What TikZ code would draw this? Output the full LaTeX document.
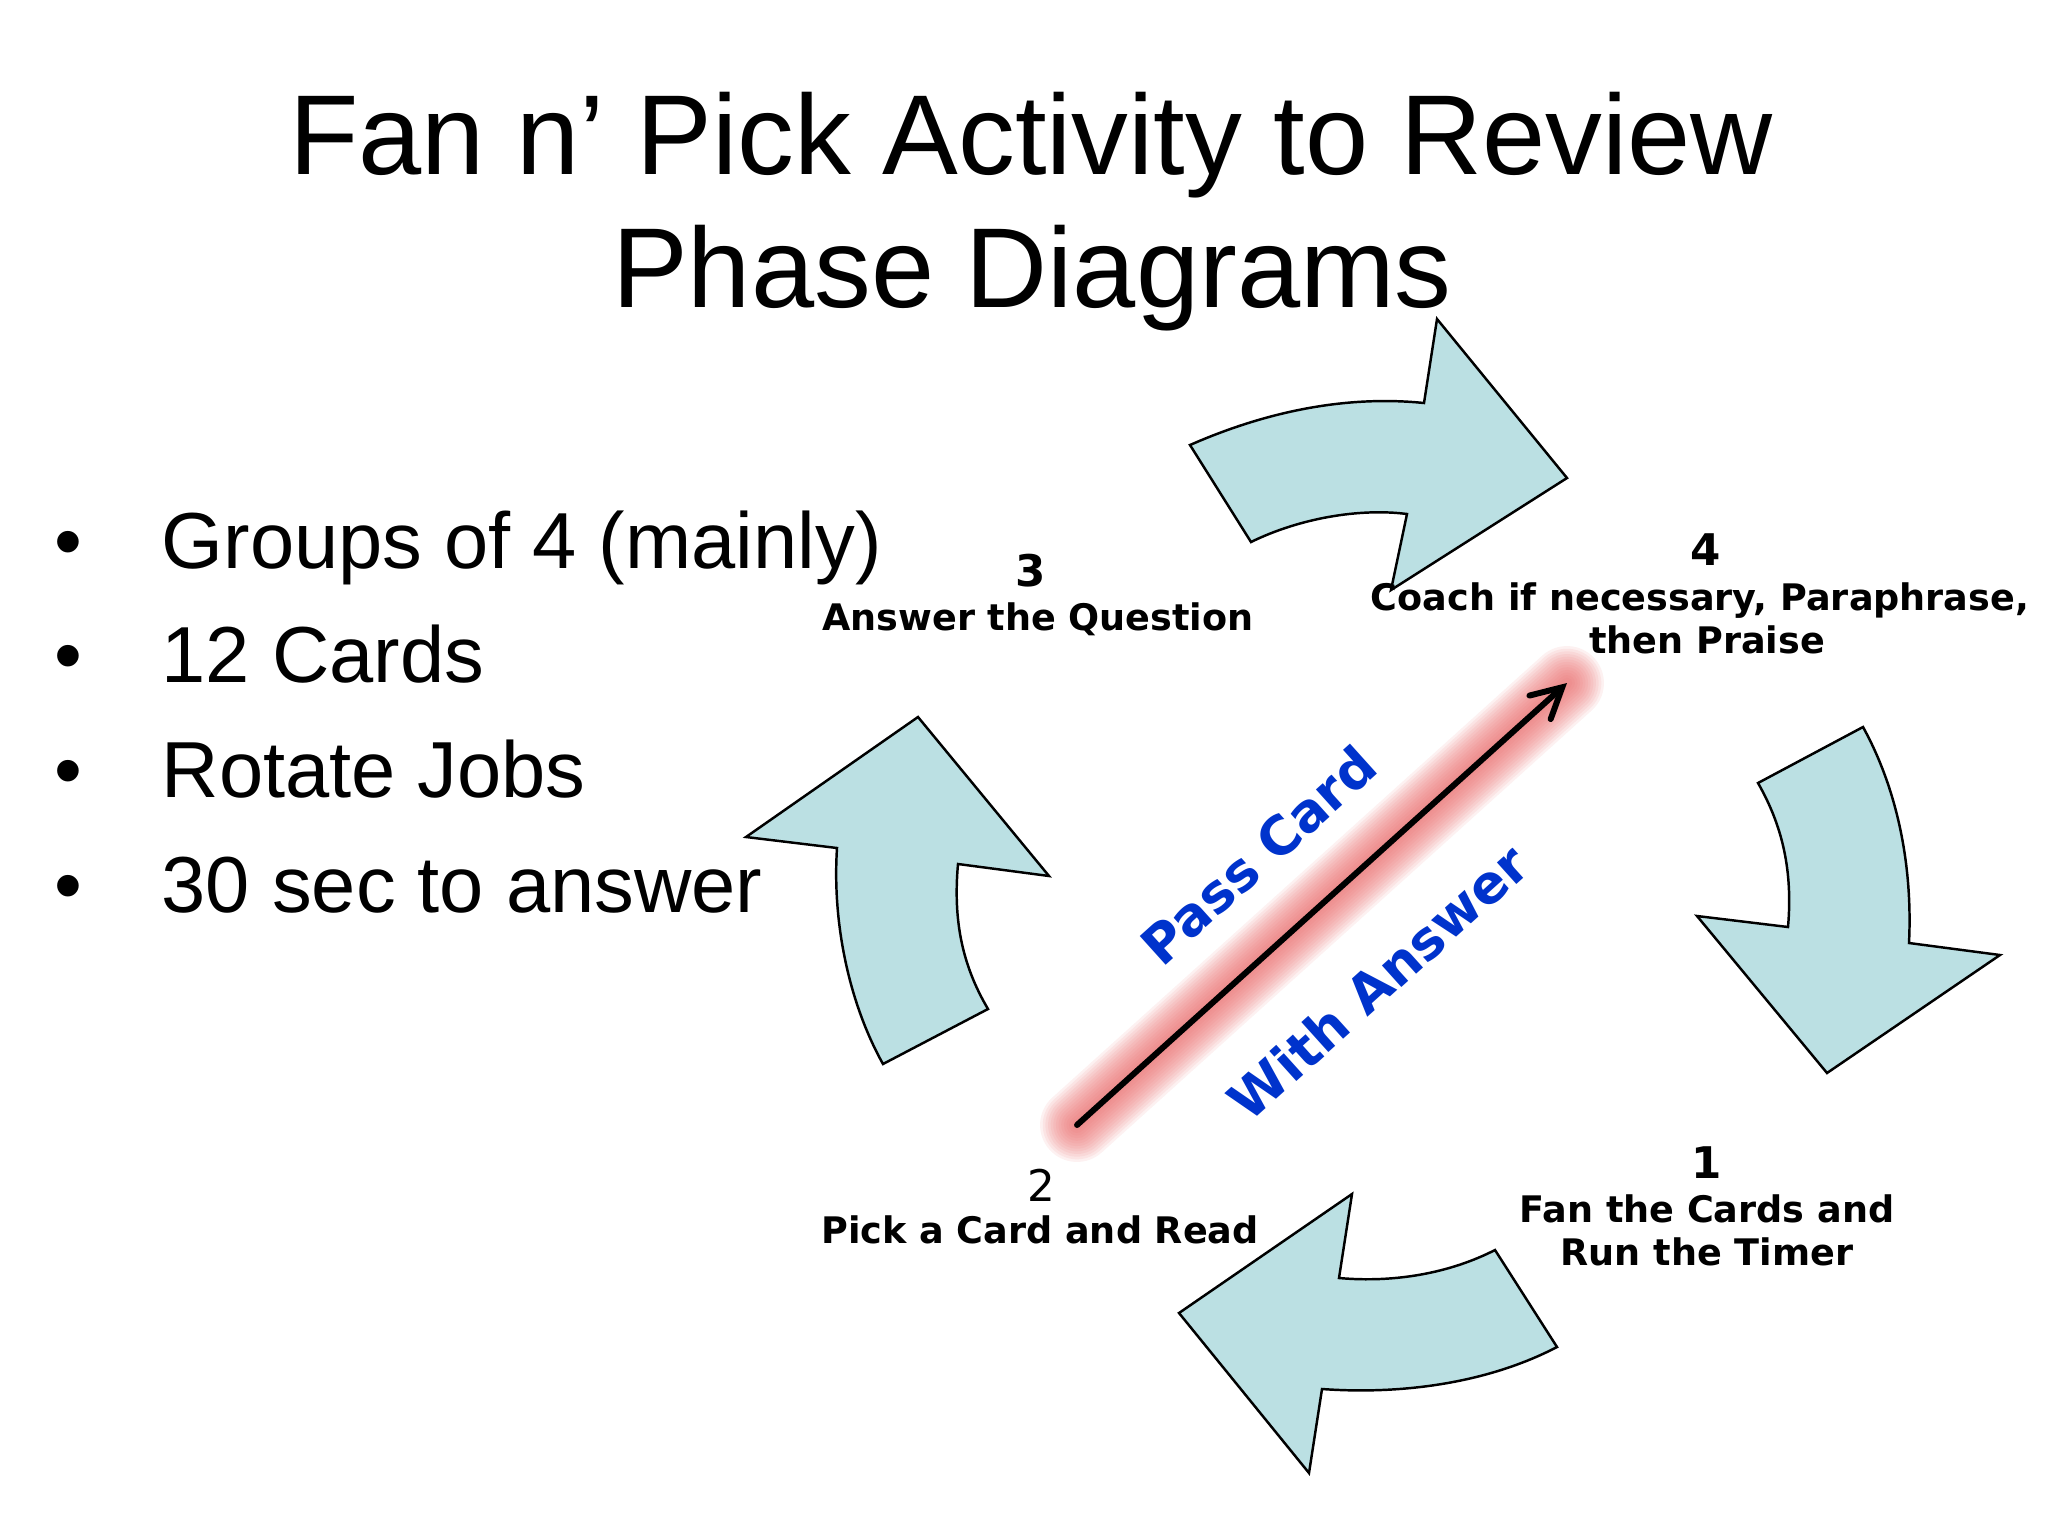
\documentclass[tikz,border=0pt]{standalone}
\usepackage{fontspec}
\setmainfont{Liberation Sans}
\newfontfamily\vfont{DejaVu Sans}
\usetikzlibrary{arrows.meta}
\definecolor{blockfill}{RGB}{187,224,227}
\definecolor{passblue}{RGB}{0,51,204}
\definecolor{glowred}{RGB}{236,104,104}
\tikzset{
  blockarrow/.style={fill=blockfill, draw=black, line width=0.7pt, line join=miter},
  titletext/.style={inner sep=0pt, anchor=base, font=\fontsize{32.3}{38}\selectfont},
  bullettext/.style={inner sep=0pt, anchor=base west, font=\fontsize{22.6}{27}\selectfont},
  bulletdot/.style={inner sep=0pt, anchor=base, font=\fontsize{22.6}{27}\selectfont},
  steplabel/.style={inner sep=0pt, anchor=base, font=\vfont\bfseries\fontsize{10.4}{12.5}\selectfont},
  stepnum/.style={inner sep=0pt, anchor=base, font=\vfont\bfseries\fontsize{12.4}{14}\selectfont},
  stepnumreg/.style={inner sep=0pt, anchor=base, font=\vfont\fontsize{12.4}{14}\selectfont},
  passtext/.style={inner sep=0pt, rotate=42, text=passblue, font=\vfont\bfseries\fontsize{15.1}{18}\selectfont},
  glowline/.style={draw=glowred, line cap=round, opacity=0.09},
  passarrow/.style={draw=black, line width=1.7pt, line cap=round,
    -{Straight Barb[length=8.5pt, width=9pt, line cap=round]}}
}
\begin{document}
\begin{tikzpicture}[x=0.01cm, y=-0.01cm]
\useasboundingbox (0,0) rectangle (2048,1536);
\fill[white] (0,0) rectangle (2048,1536);

% title
\node[titletext] (title1) at (1031,174) {Fan n’ Pick Activity to Review};
\node[titletext] (title2) at (1032,307) {Phase Diagrams};

% bullets
\node[bulletdot] (b1) at (68,568) {•};
\node[bullettext] (t1) at (161,568) {Groups of 4 (mainly)};
\node[bulletdot] (b2) at (68,682) {•};
\node[bullettext] (t2) at (161,682) {12 Cards};
\node[bulletdot] (b3) at (68,797) {•};
\node[bullettext] (t3) at (161,797) {Rotate Jobs};
\node[bulletdot] (b4) at (68,912) {•};
\node[bullettext] (t4) at (161,912) {30 sec to answer};

% block arrows
\draw[blockarrow] (1190,445) .. controls (1265,412) and (1345,395) .. (1424,403)
  -- (1437,319) -- (1567,478) -- (1391,590) -- (1407,514)
  .. controls (1360,508) and (1300,518) .. (1251,542) -- cycle;
\draw[blockarrow] (1863,727) .. controls (1895,785) and (1913,860) .. (1909,943)
  -- (2000,955) -- (1827,1073) -- (1697,916) -- (1788,927)
  .. controls (1793,870) and (1782,825) .. (1758,783) -- cycle;
\draw[blockarrow] (1495,1250) -- (1557,1347)
  .. controls (1490,1382) and (1405,1395) .. (1322,1389)
  -- (1309,1473) -- (1179,1313) -- (1352,1194) -- (1339,1278)
  .. controls (1395,1283) and (1450,1273) .. (1495,1250) -- cycle;
\draw[blockarrow] (918,717) -- (1049,876) -- (958,864)
  .. controls (953,920) and (962,965) .. (988,1009)
  -- (883,1064) .. controls (850,1005) and (832,925) .. (837,848)
  -- (746,837) -- cycle;

% pass arrow with glow
\coordinate (ps) at (1077,1125);
\coordinate (pe) at (1567,683);
\foreach \w in {21,19.5,18,16.5,15,13.5,12,10.5,9,7.5,6,4.5,3} {
  \draw[glowline, line width=\w pt] (ps) -- (pe);
}
\draw[passarrow] (ps) -- (pe);
\node[passtext] (pass) at (1258,855) {Pass Card};
\node[passtext] (with) at (1378,982) {With Answer};

% step labels
\node[stepnum] (n3) at (1031,586) {3};
\node[steplabel] (l3) at (1038,630) {Answer the Question};
\node[stepnum] (n4) at (1706,565) {4};
\node[steplabel] (l4a) at (1700,610) {Coach if necessary, Paraphrase,};
\node[steplabel] (l4b) at (1707,653) {then Praise};
\node[stepnumreg] (n2) at (1041,1201) {2};
\node[steplabel] (l2) at (1040,1243) {Pick a Card and Read};
\node[stepnum] (n1) at (1707,1178) {1};
\node[steplabel] (l1a) at (1707,1222) {Fan the Cards and};
\node[steplabel] (l1b) at (1707,1265) {Run the Timer};
\end{tikzpicture}
\end{document}
